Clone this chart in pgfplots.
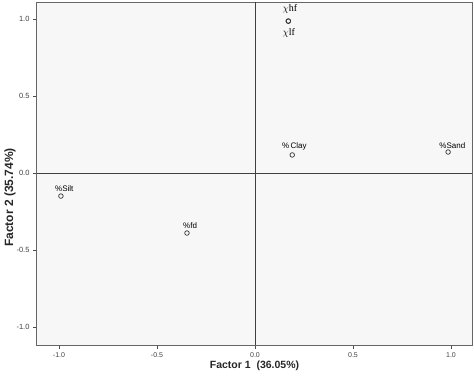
\documentclass[border=0pt]{standalone}
\usepackage{pgfplots}
\pgfplotsset{compat=1.18}
\usepackage{fontspec}
\setmainfont{Liberation Sans}
\newfontfamily\seriffont{Liberation Serif}
\begin{document}
\begin{tikzpicture}
\begin{axis}[
  scale only axis, width=435pt, height=343pt,
  xmin=-1.112, xmax=1.107, ymin=-1.117, ymax=1.11,
  xtick={-1,-0.5,0,0.5,1}, ytick={-1,-0.5,0,0.5,1},
  /pgf/number format/assume math mode=true,
  /pgf/number format/fixed, /pgf/number format/precision=1, /pgf/number format/fixed zerofill,
  tick align=outside, tick pos=left,
  axis background/.style={fill=black!3},
  axis line style={black!60, line width=1pt},
  tick style={black!70, line width=0.7pt}, major tick length=4pt,
  xticklabel style={font=\fontsize{7}{8}\selectfont, text=black!75},
  yticklabel style={font=\fontsize{7.5}{8}\selectfont, text=black!75},
  xlabel={\textbf{Factor 1\ \ (36.05\%)}}, ylabel={\textbf{Factor 2 (35.74\%)}},
  xlabel style={font=\fontsize{10.5}{11}\selectfont, text=black!85, yshift=3pt},
  ylabel style={font=\fontsize{12}{13}\selectfont, text=black!85, at={(axis description cs:-0.062,0.43)}, anchor=center},
  clip=false,
]
\addplot[black!75, line width=0.9pt] coordinates {(0,-1.117) (0,1.11)};
\addplot[black!75, line width=0.9pt] coordinates {(-1.112,0) (1.107,0)};
\addplot[only marks, mark=o, mark size=2.3pt, black!80, mark options={line width=0.7pt}] coordinates {
  (0.17,0.987) (0.17,0.985) (0.19,0.117) (0.985,0.136) (-0.99,-0.15) (-0.347,-0.39)};
\node[anchor=south west, font=\seriffont\fontsize{10}{11}\selectfont, inner sep=0pt] at (axis cs:0.14,1.035) {$\chi$hf};
\node[anchor=north west, font=\seriffont\fontsize{10}{11}\selectfont, inner sep=0pt] at (axis cs:0.14,0.94) {$\chi$lf};
\node[anchor=south west, font=\fontsize{8}{9}\selectfont, inner sep=0pt] at (axis cs:0.138,0.145) {\%\,Clay};
\node[anchor=south west, font=\fontsize{8}{9}\selectfont, inner sep=0pt] at (axis cs:0.94,0.158) {\%Sand};
\node[anchor=south west, font=\fontsize{8}{9}\selectfont, inner sep=0pt] at (axis cs:-1.02,-0.123) {\%Silt};
\node[anchor=south west, font=\fontsize{8}{9}\selectfont, inner sep=0pt] at (axis cs:-0.367,-0.365) {\%fd};
\end{axis}
\pgfresetboundingbox
\useasboundingbox ([shift={(-37pt,-38pt)}]current axis.south west) rectangle ([shift={(2pt,2pt)}]current axis.north east);
\end{tikzpicture}
\end{document}
